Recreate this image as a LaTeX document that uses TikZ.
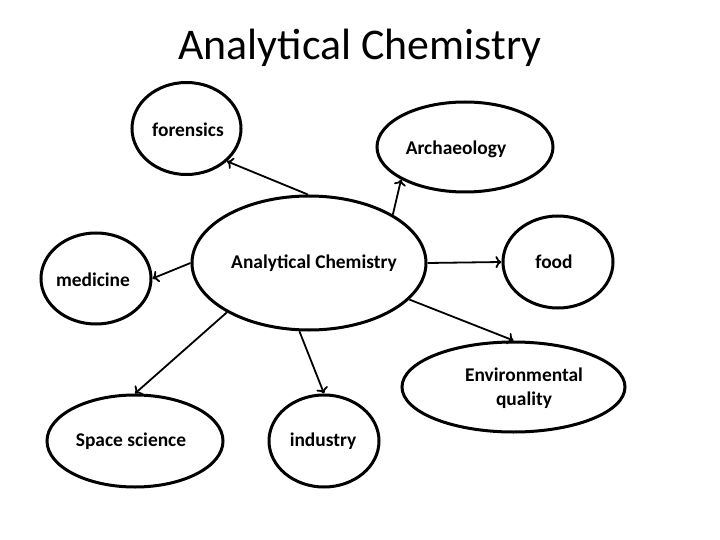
\documentclass[tikz,border=0pt]{standalone}
\usepackage{fontspec}
\setmainfont{Carlito}
\usetikzlibrary{shapes.geometric,arrows.meta}
\begin{document}
\begin{tikzpicture}[x=1bp,y=-1bp,
  topic/.style={draw=black, line width=3bp, ellipse, inner sep=0pt},
  lbl/.style={font=\bfseries\fontsize{19.5}{24}\selectfont, align=center, inner sep=0pt},
  link/.style={line width=1.8bp, -{To[length=6bp,width=12bp]}}]
\useasboundingbox[fill=white] (0,0) rectangle (720,540);
\node[font=\fontsize{44}{52}\selectfont] (title) at (360,48) {Analytical Chemistry};
\node[topic, minimum width=234bp, minimum height=134bp,
  label={[lbl, xshift=5bp]center:Analytical Chemistry}] (c) at (309,263) {};
\node[topic, minimum width=109bp, minimum height=92bp,
  label={[lbl, xshift=1.5bp, yshift=-1.5bp]center:forensics}] (fo) at (186.5,128.5) {};
\node[topic, minimum width=176bp, minimum height=90bp,
  label={[lbl, xshift=-9bp, yshift=-2bp]center:Archaeology}] (ar) at (465,147) {};
\node[topic, minimum width=110bp, minimum height=92bp,
  label={[lbl, xshift=-4bp]center:food}] (fd) at (558,262) {};
\node[topic, minimum width=110bp, minimum height=91bp,
  label={[lbl, xshift=-3bp, yshift=-1bp]center:medicine}] (me) at (96,278.5) {};
\node[topic, minimum width=223bp, minimum height=90bp,
  label={[lbl, xshift=10.5bp, yshift=-1.5bp]center:{Environmental\\quality}}] (en) at (513.5,387) {};
\node[topic, minimum width=176bp, minimum height=92bp,
  label={[lbl, xshift=-4bp]center:Space science}] (sp) at (135,441) {};
\node[topic, minimum width=110bp, minimum height=92bp,
  label={[lbl, xshift=-1bp]center:industry}] (in) at (324,441) {};
\draw[link] (c.91) -- (fo.-39.7);
\draw[link] (c.30) -- (ar.207.6);
\draw[link] (c.east) -- (fd.west);
\draw[link] (c.west) -- (me.east);
\draw[link] (c.211.7) -- (sp.north);
\draw[link] (c.262) -- (in.north);
\draw[link] (c.-20.5) -- (en.north);
\end{tikzpicture}
\end{document}
